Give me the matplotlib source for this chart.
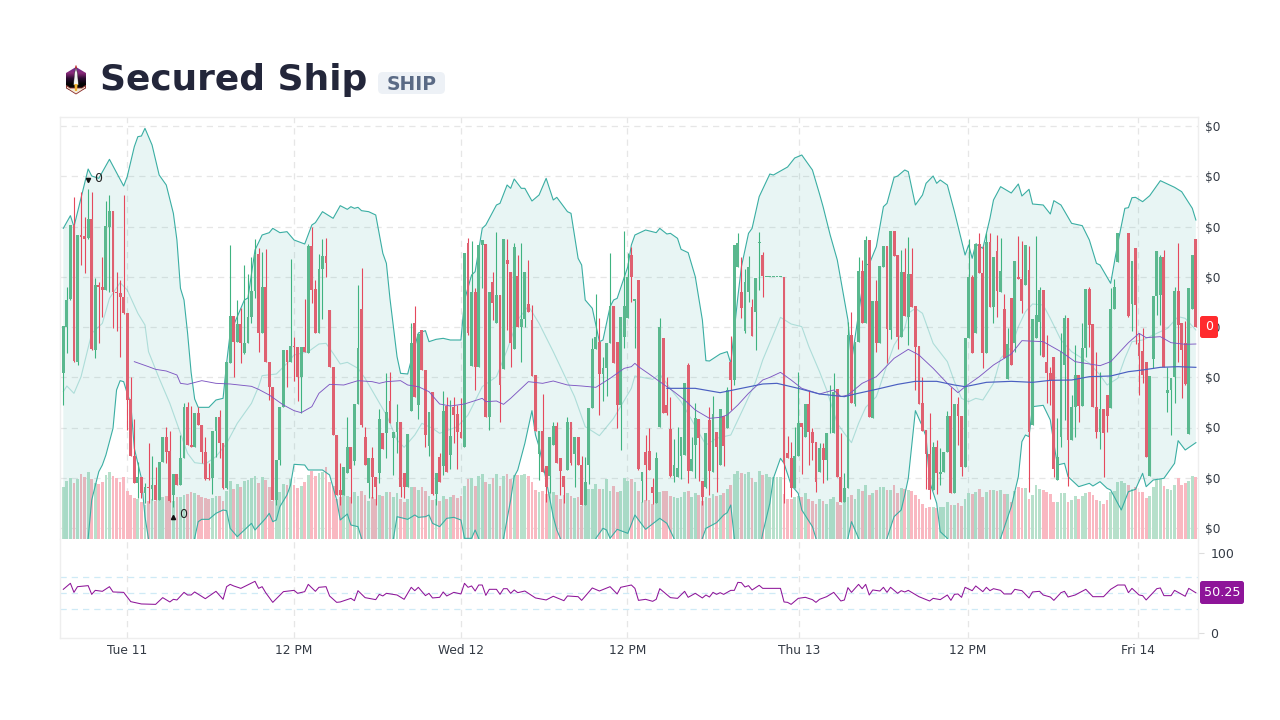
import numpy as np
import matplotlib
matplotlib.use("Agg")
import matplotlib.pyplot as plt
from matplotlib.patches import FancyBboxPatch, Polygon
from matplotlib.transforms import Affine2D

opens = [
497,637,719,942,532,912,909,902,959,567, 762,757,747,937,985,742,739,727,677,419,
249,169,185,137,157,149,162,117,232,307, 264,132,195,162,242,395,282,277,377,342,
262,182,182,324,365,287,152,529,669,592, 645,557,587,665,744,855,617,757,532,455,
117,237,397,567,532,579,575,487,575,559, 879,749,617,809,849,687,515,312,147,132,
197,275,235,405,689,305,169,242,187,197, 317,317,414,304,322,352,197,157,385,649,
402,627,507,279,442,135,245,219,399,252, 395,375,322,275,887,520,742,515,882,885,
365,772,649,732,509,837,801,569,789,637, 659,705,657,491,255,324,219,189,282,339,
242,189,207,350,255,305,222,102,223,392, 569,591,495,512,589,699,591,402,605,662,
852,715,777,175,262,264,157,107,335,602, 402,329,189,187,249,252,522,205,282,359,
174,155,357,202,322,222,369,332,532,477, 815,742,625,741,697,682,887,852,787,787,
787,787,787,787,257,242,152,249,349,307, 405,322,292,202,272,237,317,319,449,185,
112,152,612,405,592,804,647,897,362,714, 589,817,879,627,924,852,607,801,667,795,
699,579,407,327,255,147,275,195,202,262, 369,139,405,369,215,602,785,619,885,797,
557,890,695,864,742,689,479,722,587,787, 779,762,807,342,602,652,747,532,497,547,
177,307,522,662,297,395,492,399,572,749, 645,397,322,389,432,392,689,832,917,917,
917,704,872,587,564,532,189,539,729,732, 845,439,447,485,745,647,587,315,689,899]
closes = [
639,717,942,535,912,907,899,959,569,762, 755,747,939,985,742,737,727,677,417,249,
169,185,137,155,152,162,117,232,305,262, 115,195,162,242,395,282,275,377,342,262,
179,179,324,365,287,152,532,669,592,645, 587,589,667,744,855,619,757,532,455,117,
237,395,567,532,579,575,487,575,562,879, 747,617,809,849,829,515,312,132,132,215,
275,209,405,572,342,222,242,187,155,359, 269,382,347,322,352,155,155,314,587,427,
615,507,312,382,135,197,172,385,202,309, 372,322,302,857,617,742,515,882,897,367,
742,709,732,461,899,825,587,875,637,659, 801,682,490,325,324,202,157,307,339,229,
205,157,350,227,305,222,102,171,392,569, 605,495,512,589,699,527,402,665,699,785,
787,719,209,202,222,207,139,242,635,379, 379,189,222,212,305,467,205,239,362,302,
127,317,205,375,275,389,279,447,477,882, 887,692,772,815,610,782,892,789,787,787,
787,787,787,227,242,152,249,347,335,405, 322,287,172,272,237,317,319,442,187,112,
152,612,407,592,804,647,897,365,714,589, 819,879,629,924,849,607,801,669,795,697,
577,405,325,255,147,275,197,202,262,369, 139,405,369,217,602,785,557,885,799,557,
890,695,845,745,804,542,585,522,834,779, 715,882,322,659,672,747,547,497,477,209,
247,562,662,297,395,492,399,572,749,642, 397,322,389,317,369,689,757,917,917,917,
669,834,702,550,492,245,489,729,864,845, 517,447,482,745,642,567,465,752,852,637]
highs = [
639,757,942,1025,912,1042,967,1049,1042,782, 772,847,1015,1032,985,802,777,1032,677,485,
359,232,187,167,289,249,215,232,307,335, 325,195,195,312,407,412,399,377,397,342,
307,227,324,365,387,287,532,882,669,717, 692,822,795,845,899,872,862,869,532,455,
237,395,567,567,839,607,575,575,719,885, 935,777,855,899,902,687,515,312,227,215,
367,275,405,762,812,337,242,277,187,389, 317,497,502,322,404,352,197,314,647,700,
615,627,507,382,442,197,259,445,427,417, 425,402,422,857,902,895,752,882,897,885,
742,802,922,732,899,899,801,887,852,889, 801,837,702,491,324,435,219,307,352,352,
242,189,365,350,305,305,249,247,392,602, 735,664,547,589,859,699,591,665,925,859,
877,719,777,202,312,332,182,262,662,602, 487,427,299,337,305,467,527,305,409,359,
174,317,395,429,322,389,369,457,610,882, 919,847,809,849,719,782,922,862,787,787,
787,787,787,787,310,292,335,502,349,405, 445,332,292,287,289,317,462,497,449,319,
197,652,682,592,847,837,909,897,714,777, 819,879,879,924,924,852,867,872,905,872,
699,579,485,327,377,292,297,272,262,385, 457,405,425,369,602,899,792,887,917,879,
919,919,845,912,902,735,632,722,834,909, 895,882,879,659,909,755,747,612,517,547,
362,617,672,662,432,582,492,649,749,755, 645,562,502,389,432,752,779,917,917,917,
917,834,872,617,632,532,489,729,864,852, 867,517,482,757,889,647,655,752,852,899]
lows = [
402,557,717,532,522,822,797,899,567,542, 589,667,747,742,632,625,545,675,327,249,
169,122,122,107,107,117,117,117,232,227, 112,97,162,162,242,282,275,277,342,227,
177,177,135,247,242,150,150,529,485,592, 529,555,587,647,722,562,617,532,417,117,
102,222,397,455,532,475,415,379,562,559, 707,617,617,659,785,515,312,132,102,132,
197,107,222,405,337,222,122,122,102,167, 269,242,347,192,257,127,122,157,385,427,
359,507,275,249,132,102,172,192,202,209, 287,209,302,275,612,520,447,515,752,367,
327,657,649,350,509,627,517,569,637,532, 635,682,490,325,177,202,112,139,282,229,
132,107,207,222,155,222,102,102,165,392, 569,372,415,429,589,527,332,267,572,662,
712,572,207,112,117,207,104,107,335,379, 372,187,172,187,179,252,167,205,182,175,
102,152,132,202,142,222,219,332,387,462, 815,662,617,712,610,567,747,725,787,787,
787,787,787,107,242,127,152,249,195,307, 222,237,142,202,167,177,317,319,187,112,
112,152,407,399,592,647,647,365,362,562, 589,817,529,599,849,569,607,669,582,697,
447,405,325,149,119,147,135,162,202,262, 139,139,282,189,215,602,557,619,799,512,
557,695,647,667,742,542,479,522,562,779, 677,762,142,342,602,552,547,407,402,187,
177,277,357,159,297,307,352,399,547,577, 397,302,269,185,322,392,689,832,917,917,
667,625,585,432,467,245,189,512,672,642, 517,382,312,409,532,422,462,315,689,637]
volumes = [
157,175,183,167,180,195,187,202,180,167, 165,172,193,202,190,183,172,185,145,133,
122,120,112,102,115,120,115,125,125,130, 130,115,125,125,133,135,140,137,133,127,
123,120,123,130,130,115,143,173,150,165, 155,173,177,
183,190,168,187,178,155,115,150,142,165, 162,180,163,152,160,172,193,205,190,197,
202,217,170,160,120,125,132,130,125,140, 130,145,133,115,125,120,133,130,142,142,
127,137,120,110,120,155,157,147,157,145, 130,117,120,115,
130,120,125,133,123,130,160,180,183,160, 190,195,170,165,183,195,160,190,195,180,
193,193,193,195,190,170,147,142,145,135, 140,140,133,120,133,138,130,123,125,100,
165,150,150,165,150,150,180,145,160,140, 143,183,175,
180,170,145,110,118,118,105,160,140,145, 145,130,125,123,125,140,145,127,137,133,
115,127,123,135,130,133,137,150,163,195, 205,197,195,200,183,170,205,193,195,187,
187,187,187,135,120,120,127,130,125,137, 120,115,105,120,
113,105,120,127,112,102,110,127,133,120, 150,143,163,133,137,147,155,157,147,147,
163,137,153,150,147,145,133,120,105,93, 95,95,93,95,97,110,102,102,107,100,
120,137,135,140,150,127,140,147,147,143, 147,135,135,
110,145,157,153,153,120,133,163,150,147, 140,135,110,112,137,137,112,117,130,120,
130,138,142,133,117,113,105,117,140,145, 172,173,168,162,150,157,140,140,123,130,
157,178,180,160,150,147,163,183,163,168, 175,190,187]

upper_i = [0,2,3,7,8,10,13,17,18,20,21,22,23,25,27,29,31,32,33,34,35,36,37,38,41,43,45,46,47,49,51,52,54,56,58,59,61,63,65,68,70,71,73,76,78,80,81,82,83,84,86,88,90,91,92,94,95,97,98,100,102,103,105,107,109,112,113,115,116,118,119,122,123,125,126,127,129,130,132,134,136,138,139,142,143,145,146,147,149,151,152,154,155,156,159,160,161,164,167,168,170,171,173,174,176,178,180,181,182,185,187,188,190,191,193,194,196,199,200,201,204,206,208,209,211,213,214,216,218,221,222,224,226,227,229,231,232,234,235,237,238,240,242,243,245,246,247,249,251,254,255,256,257,259,261,262,264,267,269,270,272,273,276,278,279,281,284,287,289,291,292,295,297,299,300,301,302,304,306,309,313,315,318,319]
upper_v = [932,970,937,1110,1089,1082,1139,1059,1087,1177,1207,1209,1232,1182,1092,1062,977,897,752,717,618,500,420,395,395,417,422,528,618,667,717,723,867,912,919,932,919,922,897,885,942,949,982,962,1000,989,997,992,995,985,982,972,857,827,722,547,497,495,537,618,625,592,599,602,597,597,717,792,802,932,942,1002,1007,1062,1052,1080,1052,1052,1014,1032,1082,1017,1025,982,977,842,822,717,692,592,597,697,717,722,817,882,912,927,919,932,915,917,902,869,859,787,657,535,534,555,562,527,727,817,917,932,1027,1095,1092,1098,1116,1143,1152,1137,1107,1035,997,912,837,657,532,677,822,825,877,997,1007,1085,1089,1107,1102,1002,1032,1067,1089,1067,1077,1062,982,852,882,842,885,872,962,1017,1057,1038,1065,1029,1049,1005,1002,975,1015,1002,947,940,897,827,822,767,887,992,994,1024,1025,1012,1030,1075,1055,1042,992,957]

lower_i = [0,6,7,8,10,11,12,14,15,16,17,18,19,20,22,23,24,25,35,36,37,38,39,41,43,45,46,47,49,50,53,54,57,58,59,60,61,63,64,65,68,69,73,75,77,78,80,81,83,84,85,92,93,94,97,99,100,102,103,104,106,108,110,112,113,115,116,117,118,123,124,126,127,128,130,132,133,134,136,138,139,140,141,149,150,152,153,154,156,159,161,164,168,170,172,173,179,180,181,184,186,187,188,189,190,196,197,199,200,202,203,205,207,208,211,212,213,220,221,222,224,225,231,232,234,236,237,238,240,242,243,244,246,247,249,250,263,264,267,269,270,271,272,273,276,278,279,280,282,283,286,289,290,292,294,295,298,300,302,304,305,307,310,313,314,316,319]
lower_v = [-200,-60,2,117,202,222,252,332,447,475,472,437,407,272,182,67,0,-100,-100,-30,2,52,59,59,77,87,85,32,7,17,47,27,62,77,52,57,97,132,162,224,222,207,207,192,117,57,75,42,37,2,-20,-20,2,67,59,72,65,67,72,47,37,62,65,57,2,2,27,2,-40,-40,2,117,187,207,287,385,312,277,177,67,27,2,-40,-40,2,32,27,2,29,17,72,29,62,47,2,-40,-40,2,32,49,72,79,102,2,-40,-40,17,107,182,242,227,162,137,87,37,2,-40,-40,2,52,2,-40,-40,2,67,87,132,182,385,337,307,172,107,22,2,-40,-40,2,97,187,292,312,307,397,401,357,287,222,227,187,157,167,159,172,152,147,87,142,149,197,157,177,182,227,295,267,289]

mid_i = [0,1,3,5,8,11,13,16,18,21,23,24,27,30,33,35,37,40,43,46,49,53,55,56,60,63,65,69,72,74,76,78,80,83,85,88,91,94,96,99,101,104,106,111,114,118,122,125,128,131,134,138,140,144,147,151,155,160,161,166,168,172,174,177,181,184,188,192,195,197,202,205,208,210,213,215,218,220,222,224,226,229,232,234,237,238,240,242,245,249,251,253,255,257,259,262,264,267,269,271,273,276,278,281,284,287,289,292,294,297,299,301,304,308,311,314,316,319]
mid_v = [442,459,437,487,617,647,722,769,747,677,642,562,482,407,317,257,229,225,247,287,347,407,457,490,495,527,552,562,585,587,557,525,530,512,482,427,372,297,275,312,347,332,317,337,372,457,487,567,657,699,647,562,517,427,337,310,362,452,489,479,495,437,412,357,282,302,312,402,472,537,665,645,637,577,502,447,347,317,289,347,395,427,522,582,632,677,692,677,587,532,472,422,412,422,417,467,542,575,637,682,705,702,662,597,562,542,527,492,462,482,542,592,597,617,632,667,662,627]

ma_short_i = [20,24,26,29,32,33,35,39,43,47,53,55,58,62,65,67,70,72,75,79,83,87,89,91,95,97,100,103,106,109,113,118,119,122,124,126,129,131,135,138,142,146,150,154,158,160,161,162,165,168,172,175,178,182,185,187,190,193,197,199,202,205,208,213,217,219,221,225,229,234,238,241,245,249,252,254,258,262,267,270,276,281,285,292,295,300,303,305,309,312,316,319]
ma_short_v = [532,517,509,504,492,467,464,475,467,465,458,449,432,402,385,379,397,437,464,462,475,472,467,472,475,462,457,442,405,399,405,422,412,414,404,422,452,472,467,474,462,459,455,482,512,517,527,517,495,472,442,417,387,362,365,372,402,437,477,485,500,477,452,435,447,427,432,467,487,542,569,552,512,467,439,457,487,522,555,595,592,562,532,520,532,589,617,604,607,589,584,585]

ma_long_i = [170,178,185,191,197,201,207,213,220,223,229,235,240,246,251,254,260,267,273,278,284,289,295,300,304,309,314,319]
ma_long_v = [452,452,439,452,465,467,452,435,427,435,449,464,473,473,462,457,470,473,470,476,477,487,489,502,507,515,517,515]

rsi_i = [0,2,3,4,7,8,9,11,13,14,17,19,22,26,28,30,31,32,34,35,36,37,40,43,45,46,47,48,50,54,55,56,57,59,62,65,66,68,69,71,72,74,75,77,78,81,82,83,85,88,89,90,91,94,96,98,99,100,102,103,104,106,107,108,110,112,113,114,115,116,117,118,119,120,122,123,124,125,126,127,128,130,133,136,138,141,142,145,146,149,151,154,156,157,160,161,162,164,166,167,168,171,173,175,176,178,180,181,182,183,184,185,186,188,189,190,191,192,193,194,196,197,202,203,204,205,207,209,211,212,213,215,217,219,220,221,222,224,225,226,227,228,230,231,232,233,235,236,237,238,241,244,245,247,249,250,251,252,253,254,256,257,259,260,261,262,264,265,267,268,270,272,273,275,276,278,279,281,282,283,285,288,290,293,295,297,299,300,301,303,304,305,308,309,310,312,313,316,317,319]
rsi_v = [54.6,62.1,50.8,57.9,59.2,48.3,53.3,52.1,57.9,51.3,50.8,39.2,36.3,35.8,44.2,38.8,42.1,41.3,50.8,47.5,47.5,51.3,42.9,52.1,42.1,57.9,60.8,58.8,55.8,64.6,55.8,57.9,50.4,38.3,51.7,53.3,49.6,51.7,60.8,52.1,57.1,57.9,46.3,38.3,38.8,43.3,40.4,52.9,44.2,41.7,48.3,46.3,49.6,47.5,42.1,57.1,52.9,57.1,46.7,49.6,43.8,44.6,51.3,46.3,50.8,48.8,62.1,57.1,58.8,52.5,60,60,47.1,54.6,54.6,48.3,55.4,55.4,49.6,53.8,50.4,52.5,43.8,41.3,45.9,40.4,46.3,45.4,40.8,56.3,52.5,57.9,48.8,57.1,60,55.8,40.8,42.1,39.6,42.1,55.4,44.2,43.3,52.1,44.6,49.6,43.8,47.5,45,50.8,48.3,50.4,48.3,53.3,53.3,63.3,62.9,57.5,59.2,53.8,59.6,55.8,55.8,38.8,38.3,35.8,43.3,44.6,41.7,38.3,42.1,45.4,50.8,40,41.3,56.7,50.8,60.8,55.4,60.8,47.5,53.8,52.5,57.1,50.8,57.1,49.6,52.9,51.3,53.3,45.4,40,43.3,41.7,47.5,40.8,48.3,48.8,44.6,57.1,52.9,58.8,51.7,57.1,52.9,55.4,53.3,48.8,48.8,54.6,52.9,43.8,51.3,52.1,47.5,45,40.8,50.4,52.1,45,47.5,54.6,45.4,45.4,54.6,60,60,50.4,55.8,47.5,46.7,41.3,55.4,56.3,46.7,46.7,53.3,45.9,55.8,50.25]

price_ticks = [33, 183.75, 334.5, 485.25, 636, 786.75, 937.5, 1088.25, 1239]
price_labels = ["$0"] * 9
rsi_ticks = [0, 100]
rsi_grid = [30, 50, 70]
time_ticks = [18.03, 65.0, 112.0, 158.9, 207.2, 254.8, 302.7]
time_labels = ["Tue 11", "12 PM", "Wed 12", "12 PM", "Thu 13", "12 PM", "Fri 14"]

W, H = 1280, 720
def fx(x): return x / W
def fy(y): return 1 - y / H
_pix = Affine2D().scale(1, -1).translate(0, H)  # pixel coordinates with y downwards

fig = plt.figure(figsize=(12.8, 7.2), dpi=100, facecolor="white")
L, R, T, B1, B2 = 60.0, 1198.0, 116.5, 539, 638
ax = fig.add_axes([fx(L), fy(B1), (R - L) / W, (B1 - T) / H])
ax2 = fig.add_axes([fx(L), fy(B2), (R - L) / W, (B2 - B1) / H])
XLIM = (-0.93, 319.6)

GRID = "#e6e6e6"
for a in (ax, ax2):
    a.set_xlim(*XLIM)
    a.set_facecolor("white")
    for s in a.spines.values():
        s.set_color("#eeeeee")
        s.set_linewidth(1)
    a.yaxis.tick_right()
    a.set_xticks(time_ticks)
    a.grid(axis="x", color=GRID, lw=0.9, ls=(0, (5, 4)), zorder=0)
    a.set_axisbelow(True)

ax.spines["bottom"].set_visible(False)
ax2.spines["top"].set_visible(False)
ax.set_ylim(0, 1267.5)
ax.set_yticks(price_ticks)
ax.set_yticklabels(price_labels)
ax.grid(axis="y", color=GRID, lw=0.9, ls=(0, (5, 4)), zorder=0)
ax.tick_params(axis="x", length=0, labelbottom=False)
ax.tick_params(axis="y", length=0, labelsize=8.8, labelcolor="#333a44", pad=5)

idx = np.arange(len(opens))
o, c, h, l = map(np.array, (opens, closes, highs, lows))
up = c >= o

# volume
vol_colors = np.where(up, "#b7e0cb", "#f9b8c1")
ax.bar(idx, volumes, width=0.78, color=vol_colors, linewidth=0, zorder=1)

# bands
ax.fill(np.r_[upper_i, lower_i[::-1]], np.r_[upper_v, lower_v[::-1]],
        color="#26a69a", alpha=0.1, lw=0, zorder=2)
ax.plot(upper_i, upper_v, color="#3aaea3", lw=0.8, zorder=3)
ax.plot(lower_i, lower_v, color="#3aaea3", lw=0.8, zorder=3)
ax.plot(mid_i, mid_v, color="#26a69a", alpha=0.3, lw=0.8, zorder=3)

# candles
ax.vlines(idx[up], l[up], h[up], color="#3fb380", lw=0.8, zorder=4)
ax.vlines(idx[~up], l[~up], h[~up], color="#e5485c", lw=0.8, zorder=4)
bh = np.maximum(np.abs(c - o), 2)
ax.bar(idx[up], bh[up], bottom=np.minimum(o, c)[up], width=0.8, color="#5ab88e", lw=0, zorder=5)
ax.bar(idx[~up], bh[~up], bottom=np.minimum(o, c)[~up], width=0.8, color="#df6070", lw=0, zorder=5)

# moving averages
ax.plot(ma_short_i, ma_short_v, color="#7e57c2", lw=0.65, zorder=6)
ax.plot(ma_long_i, ma_long_v, color="#4a5fc1", lw=0.85, zorder=6)

# high / low marks
ax.plot([7], [1077], marker="v", ms=3, color="#111111", zorder=7, clip_on=False)
ax.text(8.6, 1083, "0", fontsize=9, color="#222222", va="center", ha="left", zorder=7)
ax.plot([31], [67], marker="^", ms=3, color="#111111", zorder=7)
ax.text(32.6, 72, "0", fontsize=9, color="#222222", va="center", ha="left", zorder=7)

# RSI pane
ax2.set_ylim(-6.25, 117.5)
ax2.set_yticks(rsi_ticks)
ax2.tick_params(axis="y", length=4, color="#dddddd", labelsize=9, labelcolor="#333a44", pad=5)
ax2.set_xticklabels(time_labels)
ax2.tick_params(axis="x", length=0, labelsize=8.8, labelcolor="#333a44", pad=4)
for g in rsi_grid:
    ax2.axhline(g, color="#cfeaf6", lw=0.9, ls=(0, (5, 4)), zorder=1)
ax2.plot(rsi_i, rsi_v, color="#8e1599", lw=0.75, zorder=3)

# tags
def tag(x0, x1, y0, y1, color, text, fs):
    fig.add_artist(FancyBboxPatch((x0 + 2, y0 + 2), x1 - x0 - 4, y1 - y0 - 4,
                                  boxstyle="round,pad=2,rounding_size=2.5",
                                  transform=_pix, fc=color, ec="none", zorder=10))
    fig.text(fx((x0 + x1) / 2), fy((y0 + y1) / 2), text,
             color="white", fontsize=fs, ha="center", va="center", zorder=11)

tag(1200, 1218, 316, 338, "#ff2b2e", "0", 9)
tag(1200, 1244, 581, 604, "#8e1599", "50.25", 9.2)

# title
fig.text(fx(100), fy(76.5), "Secured Ship", fontsize=25.9, fontweight="bold",
         color="#23263a", ha="left", va="center_baseline")
fig.add_artist(FancyBboxPatch((381, 75), 61, 16, boxstyle="round,pad=3,rounding_size=5",
                              transform=_pix, fc="#edf1f6", ec="none"))
fig.text(fx(411.5), fy(82.5), "SHIP", fontsize=13.5, fontweight="bold",
         color="#5a6a85", ha="center", va="center_baseline")

# logo
lax = fig.add_axes([fx(64), fy(96), 24 / W, 32 / H])
lax.set_xlim(64, 88); lax.set_ylim(96, 64); lax.axis("off")
hexa = [(76, 67), (86, 73), (86, 88), (76, 94), (66, 88), (66, 73)]
grad = np.linspace(0, 1, 40).reshape(-1, 1)
cmap = matplotlib.colors.LinearSegmentedColormap.from_list(
    "l", ["#6a2b90", "#8a2a7a", "#2a0a30", "#050505", "#050505"])
im = lax.imshow(grad, extent=(66, 86, 90, 67), cmap=cmap, aspect="auto", zorder=1)
im.set_clip_path(Polygon(hexa, transform=lax.transData))
lax.set_xlim(64, 88); lax.set_ylim(96, 64)
lax.add_patch(Polygon([(66.5, 85.5), (70, 88), (82, 88), (85.5, 85.5), (85.5, 88), (76, 94), (66.5, 88)],
                      fc="#f3ead6", ec="#8a2a2a", lw=0.6, zorder=2))
lax.add_patch(Polygon([(76, 67), (77.6, 74), (78.4, 85), (73.6, 85), (74.4, 74)],
                      fc="#f4f4f4", ec="#222222", lw=0.3, zorder=3))
lax.add_patch(Polygon([(75.4, 65.5), (76.6, 65.5), (76.9, 68.5), (75.1, 68.5)], fc="#c0282d", ec="none", zorder=4))
lax.add_patch(Polygon([(74.4, 84), (77.6, 84), (77, 91), (75, 91)], fc="#f2b233", ec="none", zorder=4))

fig.savefig("out.png", dpi=100, facecolor="white")
